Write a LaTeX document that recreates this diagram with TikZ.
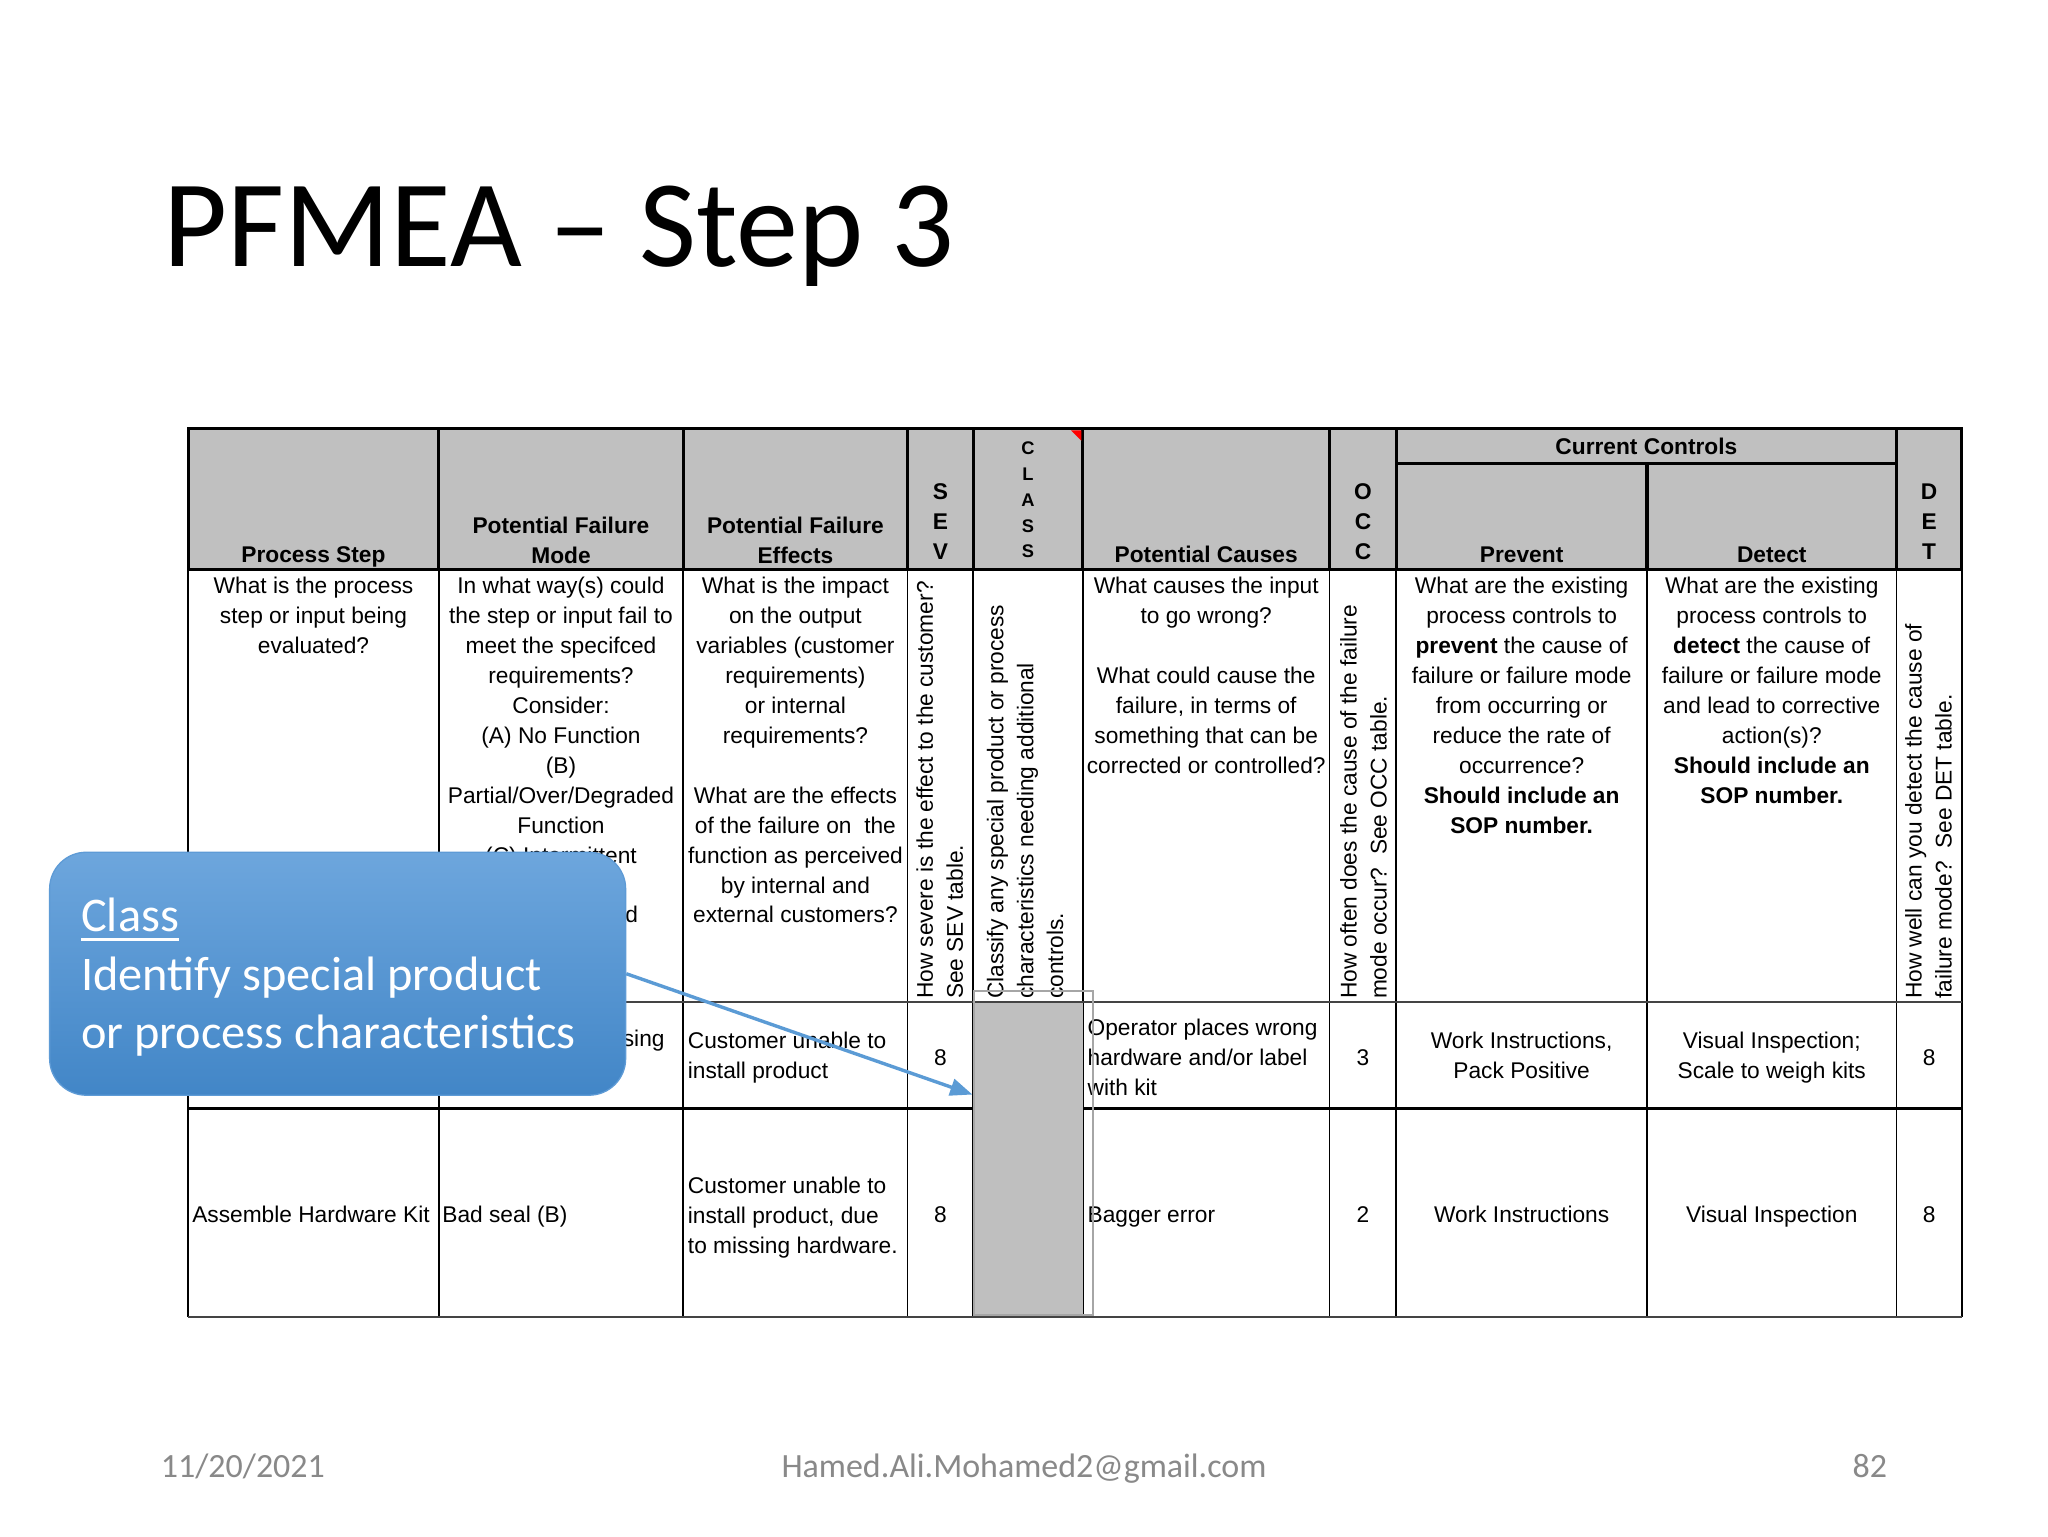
\documentclass[tikz,border=0pt]{standalone}
\usepackage{fontspec}
\setmainfont{Liberation Sans}
\newfontfamily\calfont{Carlito}
\usetikzlibrary{arrows.meta}
\definecolor{hdrgray}{HTML}{C0C0C0}
\definecolor{classgray}{HTML}{BFBFBF}
\definecolor{selgray}{HTML}{A6A6A6}
\definecolor{footgray}{HTML}{898989}
\definecolor{calltop}{HTML}{6DA6DD}
\definecolor{callbot}{HTML}{4286C7}
\definecolor{callline}{HTML}{5E9BD6}
\definecolor{arrowblue}{HTML}{5B9BD5}
\definecolor{rowline}{HTML}{444444}
\newcommand\tabfont{\fontsize{17.4}{22.9}\selectfont}
\newcommand\tstrut{\rule{0pt}{14pt}}
\newcommand\cstrut{\rule{0pt}{11pt}}
\begin{document}
\begin{tikzpicture}[x=1pt,y=-1pt,
  cell/.style={font=\tabfont, inner sep=0pt, align=center, anchor=north},
  lcell/.style={font=\tabfont, inner sep=0pt, align=left, anchor=north west},
  hdr/.style={font=\tabfont\bfseries, inner sep=0pt, align=center, anchor=north},
  hdrone/.style={font=\tabfont\bfseries, inner sep=0pt, anchor=base},
  rottxt/.style={font=\tabfont, inner sep=0pt, align=left, anchor=north west, rotate=90},
  num/.style={font=\tabfont, inner sep=0pt, anchor=base},
  hline/.style={line width=2.4pt, black},
  bline/.style={line width=1.1pt, black},
  bthick/.style={line width=1.8pt, black},
  foot/.style={font=\calfont\fontsize{26}{30}\selectfont, text=footgray, inner sep=0pt},
  calltxt/.style={font=\calfont\fontsize{37}{45}\selectfont, text=white, inner sep=0pt},
  callout/.style={rounded corners=28pt, minimum width=441pt, minimum height=186pt,
    top color=calltop, bottom color=callbot, draw=callline, line width=1pt, inner sep=0pt},
  callarrow/.style={draw=arrowblue, line width=2.6pt, -{Triangle[length=17pt,width=13pt]}}
]
\useasboundingbox (0,0) rectangle (1568,1176);
\fill[white] (0,0) rectangle (1568,1176);

% title
\node[font=\calfont\fontsize{95}{110}\selectfont, inner sep=0pt, anchor=base west] (title) at (125,204) {PFMEA – Step 3};

% header background
\fill[hdrgray] (144,328) rectangle (1502,436);

% body lines
\foreach \x in {144,523,695,745,829,1018,1452,1502} \draw[bline] (\x,436) -- (\x,1008);
\foreach \x in {336,1069,1261} \draw[bthick] (\x,436) -- (\x,1008);
\draw[line width=1.6pt, rowline] (144,767) -- (1502,767);
\draw[line width=2.2pt, black] (144,849) -- (1502,849);
\draw[line width=1.5pt, rowline] (144,1008) -- (1502,1008);

% header lines
\draw[hline] (144,328) rectangle (1502,436);
\foreach \x in {336,523,695,745,829,1018,1069,1452} \draw[hline] (\x,328) -- (\x,436);
\draw[hline] (1069,355) -- (1452,355);
\draw[hline] (1261,355) -- (1261,436);
\fill[red] (820,329.5) -- (828,329.5) -- (828,337.5) -- cycle;

% header texts
\node[hdrone] (hps) at (240,430.5) {Process Step};
\node[hdr] (hpfm) at (429.5,394) {\tstrut Potential Failure\\Mode};
\node[hdr] (hpfe) at (609,394) {\tstrut Potential Failure\\Effects};
\node[hdr] (hsev) at (720,368) {\tstrut S\\E\\V};
\node[hdr, font=\fontsize{14}{19.8}\selectfont\bfseries] (hclass) at (787,336.8) {\cstrut C\\L\\A\\S\\S};
\node[hdrone] (hpc) at (923.5,430.5) {Potential Causes};
\node[hdr] (hocc) at (1043.5,368) {\tstrut O\\C\\C};
\node[hdrone] (hcc) at (1260.5,348) {Current Controls};
\node[hdrone] (hprev) at (1165,430.5) {Prevent};
\node[hdrone] (hdet) at (1356.5,430.5) {Detect};
\node[hdr] (hdt) at (1477,368) {\tstrut D\\E\\T};

% row 1 (descriptions)
\node[cell] (r1c1) at (240,440.5) {\tstrut What is the process\\step or input being\\evaluated?};
\node[cell] (r1c2) at (429.5,440.5) {\tstrut In what way(s) could\\the step or input fail to\\meet the specifced\\requirements?\\Consider:\\(A) No Function\\(B)\\Partial/Over/Degraded\\Function\\(C) Intermittent\\Function\\(D) Unintended\\Function};
\node[cell] (r1c3) at (609,440.5) {\tstrut What is the impact\\on the output\\variables (customer\\requirements)\\or internal\\requirements?\\\mbox{}\\What are the effects\\of the failure on\ \ the\\function as perceived\\by internal and\\external customers?};
\node[rottxt] (r1sev) at (700,765) {\tstrut How severe is the effect to the customer?\\See SEV table.};
\node[rottxt] (r1class) at (754,765) {\tstrut Classify any special product or process\\characteristics needing additional\\controls.};
\node[cell] (r1pc) at (923.5,440.5) {\tstrut What causes the input\\to go wrong?\\\mbox{}\\What could cause the\\failure, in terms of\\something that can be\\corrected or controlled?};
\node[rottxt] (r1occ) at (1024.5,765) {\tstrut How often does the cause of the failure\\mode occur?\ \ See OCC table.};
\node[cell] (r1prev) at (1165,440.5) {\tstrut What are the existing\\process controls to\\\textbf{prevent} the cause of\\failure or failure mode\\from occurring or\\reduce the rate of\\occurrence?\\\textbf{Should include an}\\\textbf{SOP number.}};
\node[cell] (r1det) at (1356.5,440.5) {\tstrut What are the existing\\process controls to\\\textbf{detect} the cause of\\failure or failure mode\\and lead to corrective\\action(s)?\\\textbf{Should include an}\\\textbf{SOP number.}};
\node[rottxt] (r1dt) at (1457,765) {\tstrut How well can you detect the cause of\\failure mode?\ \ See DET table.};

% row 2
\node[num, anchor=base east] (r2c2) at (509,801) {missing};
\node[lcell] (r2c3) at (526.5,788.5) {\tstrut Customer unable to\\install product};
\node[num] (r2sev) at (720,815.5) {8};
\node[lcell] (r2pc) at (832.5,778.5) {\tstrut Operator places wrong\\hardware and/or label\\with kit};
\node[num] (r2occ) at (1043.5,815.5) {3};
\node[cell] (r2prev) at (1165,788.5) {\tstrut Work Instructions,\\Pack Positive};
\node[cell] (r2det) at (1356.5,788.5) {\tstrut Visual Inspection;\\Scale to weigh kits};
\node[num] (r2dt) at (1477,815.5) {8};

% row 3
\node[num, anchor=base west] (r3c1) at (147,936) {Assemble Hardware Kit};
\node[num, anchor=base west] (r3c2) at (338.5,936) {Bad seal (B)};
\node[lcell] (r3c3) at (526.5,899.5) {\tstrut Customer unable to\\install product, due\\to missing hardware.};
\node[num] (r3sev) at (720,936) {8};
\node[num, anchor=base west] (r3pc) at (832.5,936) {Bagger error};
\node[num] (r3occ) at (1043.5,936) {2};
\node[num] (r3prev) at (1165,936) {Work Instructions};
\node[num] (r3det) at (1356.5,936) {Visual Inspection};
\node[num] (r3dt) at (1477,936) {8};

% class column shading and selection outline
\fill[classgray] (745.6,767.8) rectangle (829,1007);
\draw[selgray, line width=1.6pt] (745.5,758.5) rectangle (837,1007);

% callout
\node[callout] (callout) at (258.5,745.5) {};
\node[calltxt, anchor=base west] (clsname) at (62,713) {Class};
\draw[white, line width=2.2pt] ([yshift=-6pt]clsname.base west) -- ([yshift=-6pt]clsname.base east);
\node[calltxt, anchor=base west] (cltwo) at (62,758) {Identify special product};
\node[calltxt, anchor=base west] (clthree) at (62,803) {or process characteristics};
\coordinate (tip) at (744.5,838);
\draw[callarrow] (callout.east) -- (tip);

% footer
\node[foot, anchor=base west] (date) at (123,1131) {11/20/2021};
\node[foot, anchor=base] (mail) at (784,1131) {Hamed.Ali.Mohamed2@gmail.com};
\node[foot, anchor=base east] (page) at (1445,1131) {82};
\end{tikzpicture}
\end{document}
